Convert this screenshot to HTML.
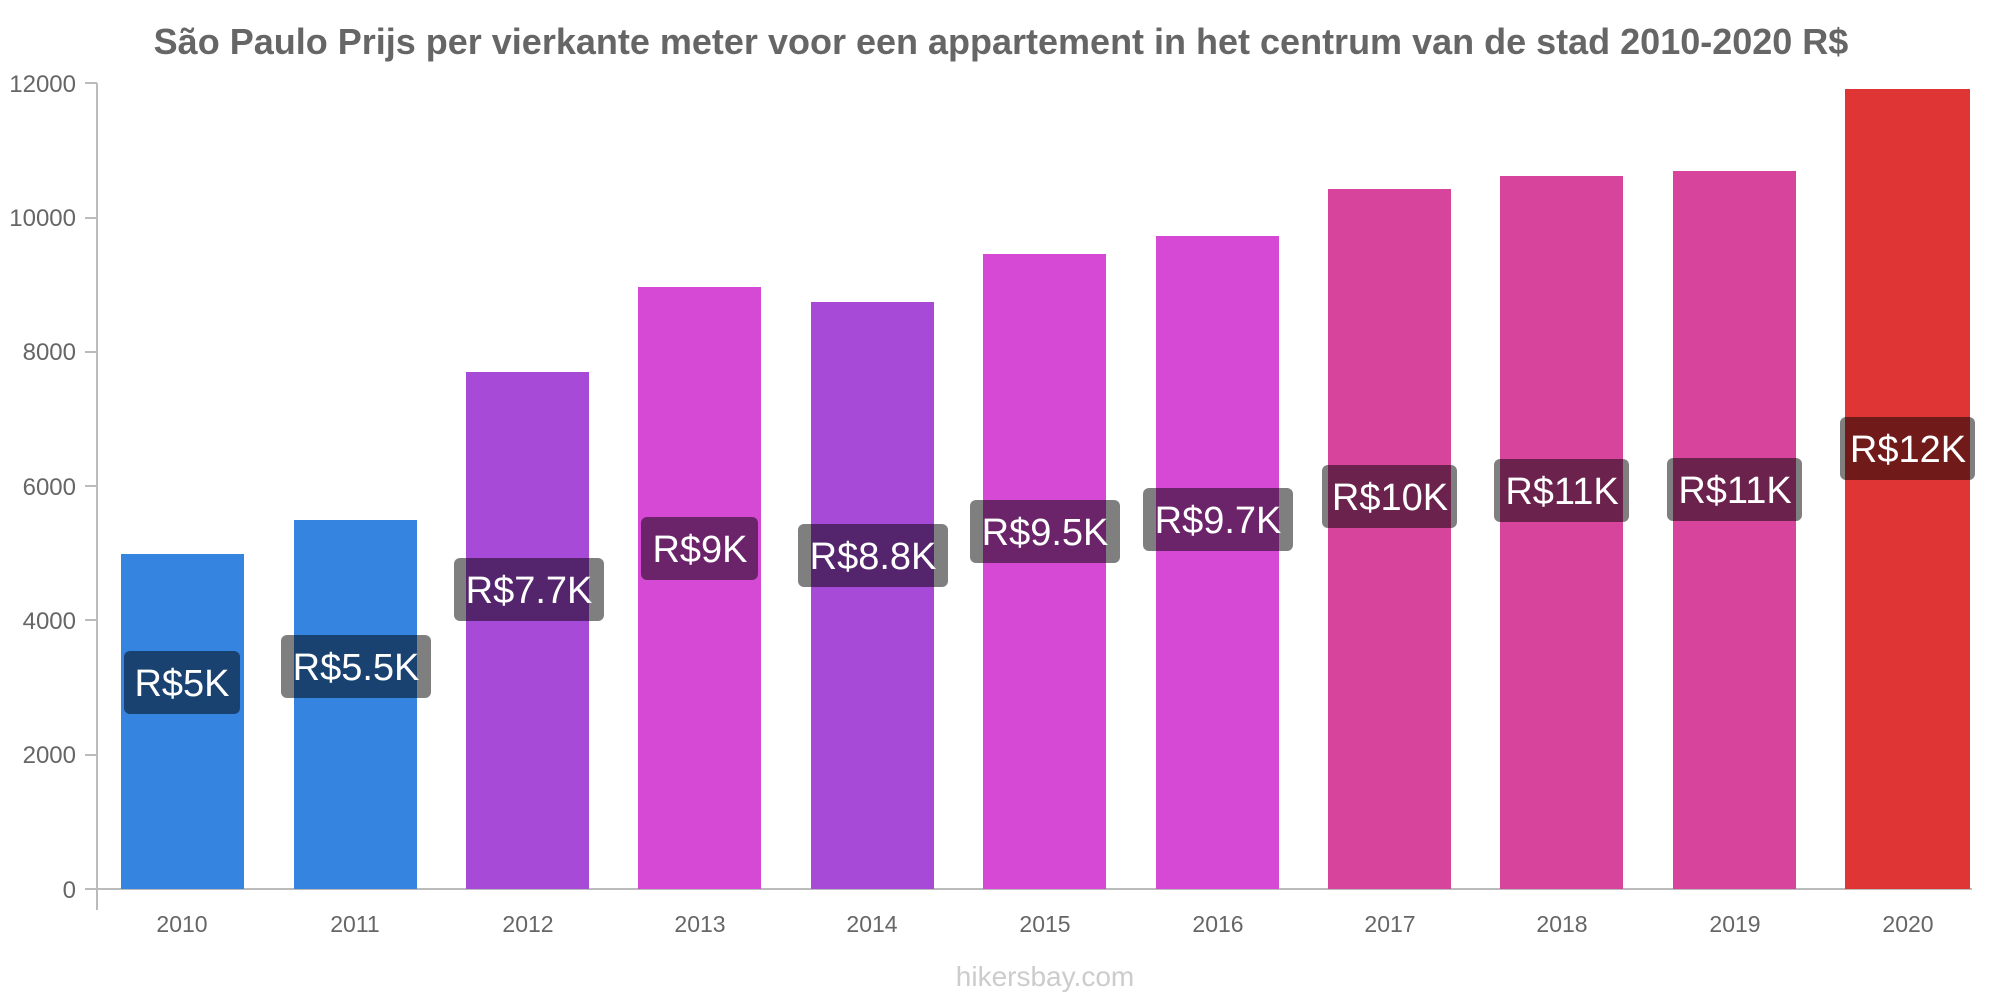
<!DOCTYPE html>
<html><head><meta charset="utf-8"><style>body{margin:0;background:#fff}svg{display:block}text{font-family:"Liberation Sans",sans-serif}</style></head><body>
<svg width="2000" height="1000" viewBox="0 0 2000 1000" xmlns="http://www.w3.org/2000/svg">
<text x="1001" y="54" text-anchor="middle" font-size="36" font-weight="bold" fill="#666">São Paulo Prijs per vierkante meter voor een appartement in het centrum van de stad 2010-2020 R$</text>
<g font-size="24" fill="#666" text-anchor="end">
<text x="76" y="92">12000</text><text x="76" y="226">10000</text><text x="76" y="360">8000</text><text x="76" y="495">6000</text><text x="76" y="629">4000</text><text x="76" y="763">2000</text><text x="76" y="898">0</text>
</g>
<g stroke="#bbb" stroke-width="2">
<line x1="97" y1="83" x2="97" y2="910"/><line x1="85" y1="889" x2="1972" y2="889"/>
<line x1="85" y1="83" x2="97" y2="83"/><line x1="85" y1="218" x2="97" y2="218"/><line x1="85" y1="352" x2="97" y2="352"/><line x1="85" y1="486" x2="97" y2="486"/><line x1="85" y1="620" x2="97" y2="620"/><line x1="85" y1="755" x2="97" y2="755"/>
</g>
<g>
<rect x="121" y="554" width="123" height="335" fill="#3584e0"/>
<rect x="294" y="520" width="123" height="369" fill="#3584e0"/>
<rect x="466" y="372" width="123" height="517" fill="#a84ad8"/>
<rect x="638" y="287" width="123" height="602" fill="#d649d4"/>
<rect x="811" y="302" width="123" height="587" fill="#a84ad8"/>
<rect x="983" y="254" width="123" height="635" fill="#d649d4"/>
<rect x="1156" y="236" width="123" height="653" fill="#d649d4"/>
<rect x="1328" y="189" width="123" height="700" fill="#d6459b"/>
<rect x="1500" y="176" width="123" height="713" fill="#d6459b"/>
<rect x="1673" y="171" width="123" height="718" fill="#d6459b"/>
<rect x="1845" y="89" width="125" height="800" fill="#e03535"/>
</g>
<g font-size="38" fill="#fff" text-anchor="middle">
<rect x="124" y="651" width="116" height="63" rx="6" fill="rgba(0,0,0,0.5)"/><text x="182" y="696">R$5K</text>
<rect x="281" y="635" width="150" height="63" rx="6" fill="rgba(0,0,0,0.5)"/><text x="356" y="680">R$5.5K</text>
<rect x="454" y="558" width="150" height="63" rx="6" fill="rgba(0,0,0,0.5)"/><text x="529" y="603">R$7.7K</text>
<rect x="641" y="517" width="117" height="63" rx="6" fill="rgba(0,0,0,0.5)"/><text x="700" y="562">R$9K</text>
<rect x="798" y="524" width="150" height="63" rx="6" fill="rgba(0,0,0,0.5)"/><text x="873" y="569">R$8.8K</text>
<rect x="970" y="500" width="150" height="63" rx="6" fill="rgba(0,0,0,0.5)"/><text x="1045" y="545">R$9.5K</text>
<rect x="1143" y="488" width="150" height="63" rx="6" fill="rgba(0,0,0,0.5)"/><text x="1218" y="533">R$9.7K</text>
<rect x="1322" y="465" width="135" height="63" rx="6" fill="rgba(0,0,0,0.5)"/><text x="1390" y="510">R$10K</text>
<rect x="1494" y="459" width="135" height="63" rx="6" fill="rgba(0,0,0,0.5)"/><text x="1562" y="504">R$11K</text>
<rect x="1667" y="458" width="135" height="63" rx="6" fill="rgba(0,0,0,0.5)"/><text x="1735" y="503">R$11K</text>
<rect x="1840" y="417" width="135" height="63" rx="6" fill="rgba(0,0,0,0.5)"/><text x="1908" y="462">R$12K</text>
</g>
<g font-size="23" fill="#666" text-anchor="middle">
<text x="182" y="932">2010</text><text x="355" y="932">2011</text><text x="528" y="932">2012</text><text x="700" y="932">2013</text><text x="872" y="932">2014</text><text x="1045" y="932">2015</text><text x="1218" y="932">2016</text><text x="1390" y="932">2017</text><text x="1562" y="932">2018</text><text x="1735" y="932">2019</text><text x="1908" y="932">2020</text>
</g>
<text x="1045" y="986" text-anchor="middle" font-size="28" fill="#ccc">hikersbay.com</text>
</svg>
</body></html>
